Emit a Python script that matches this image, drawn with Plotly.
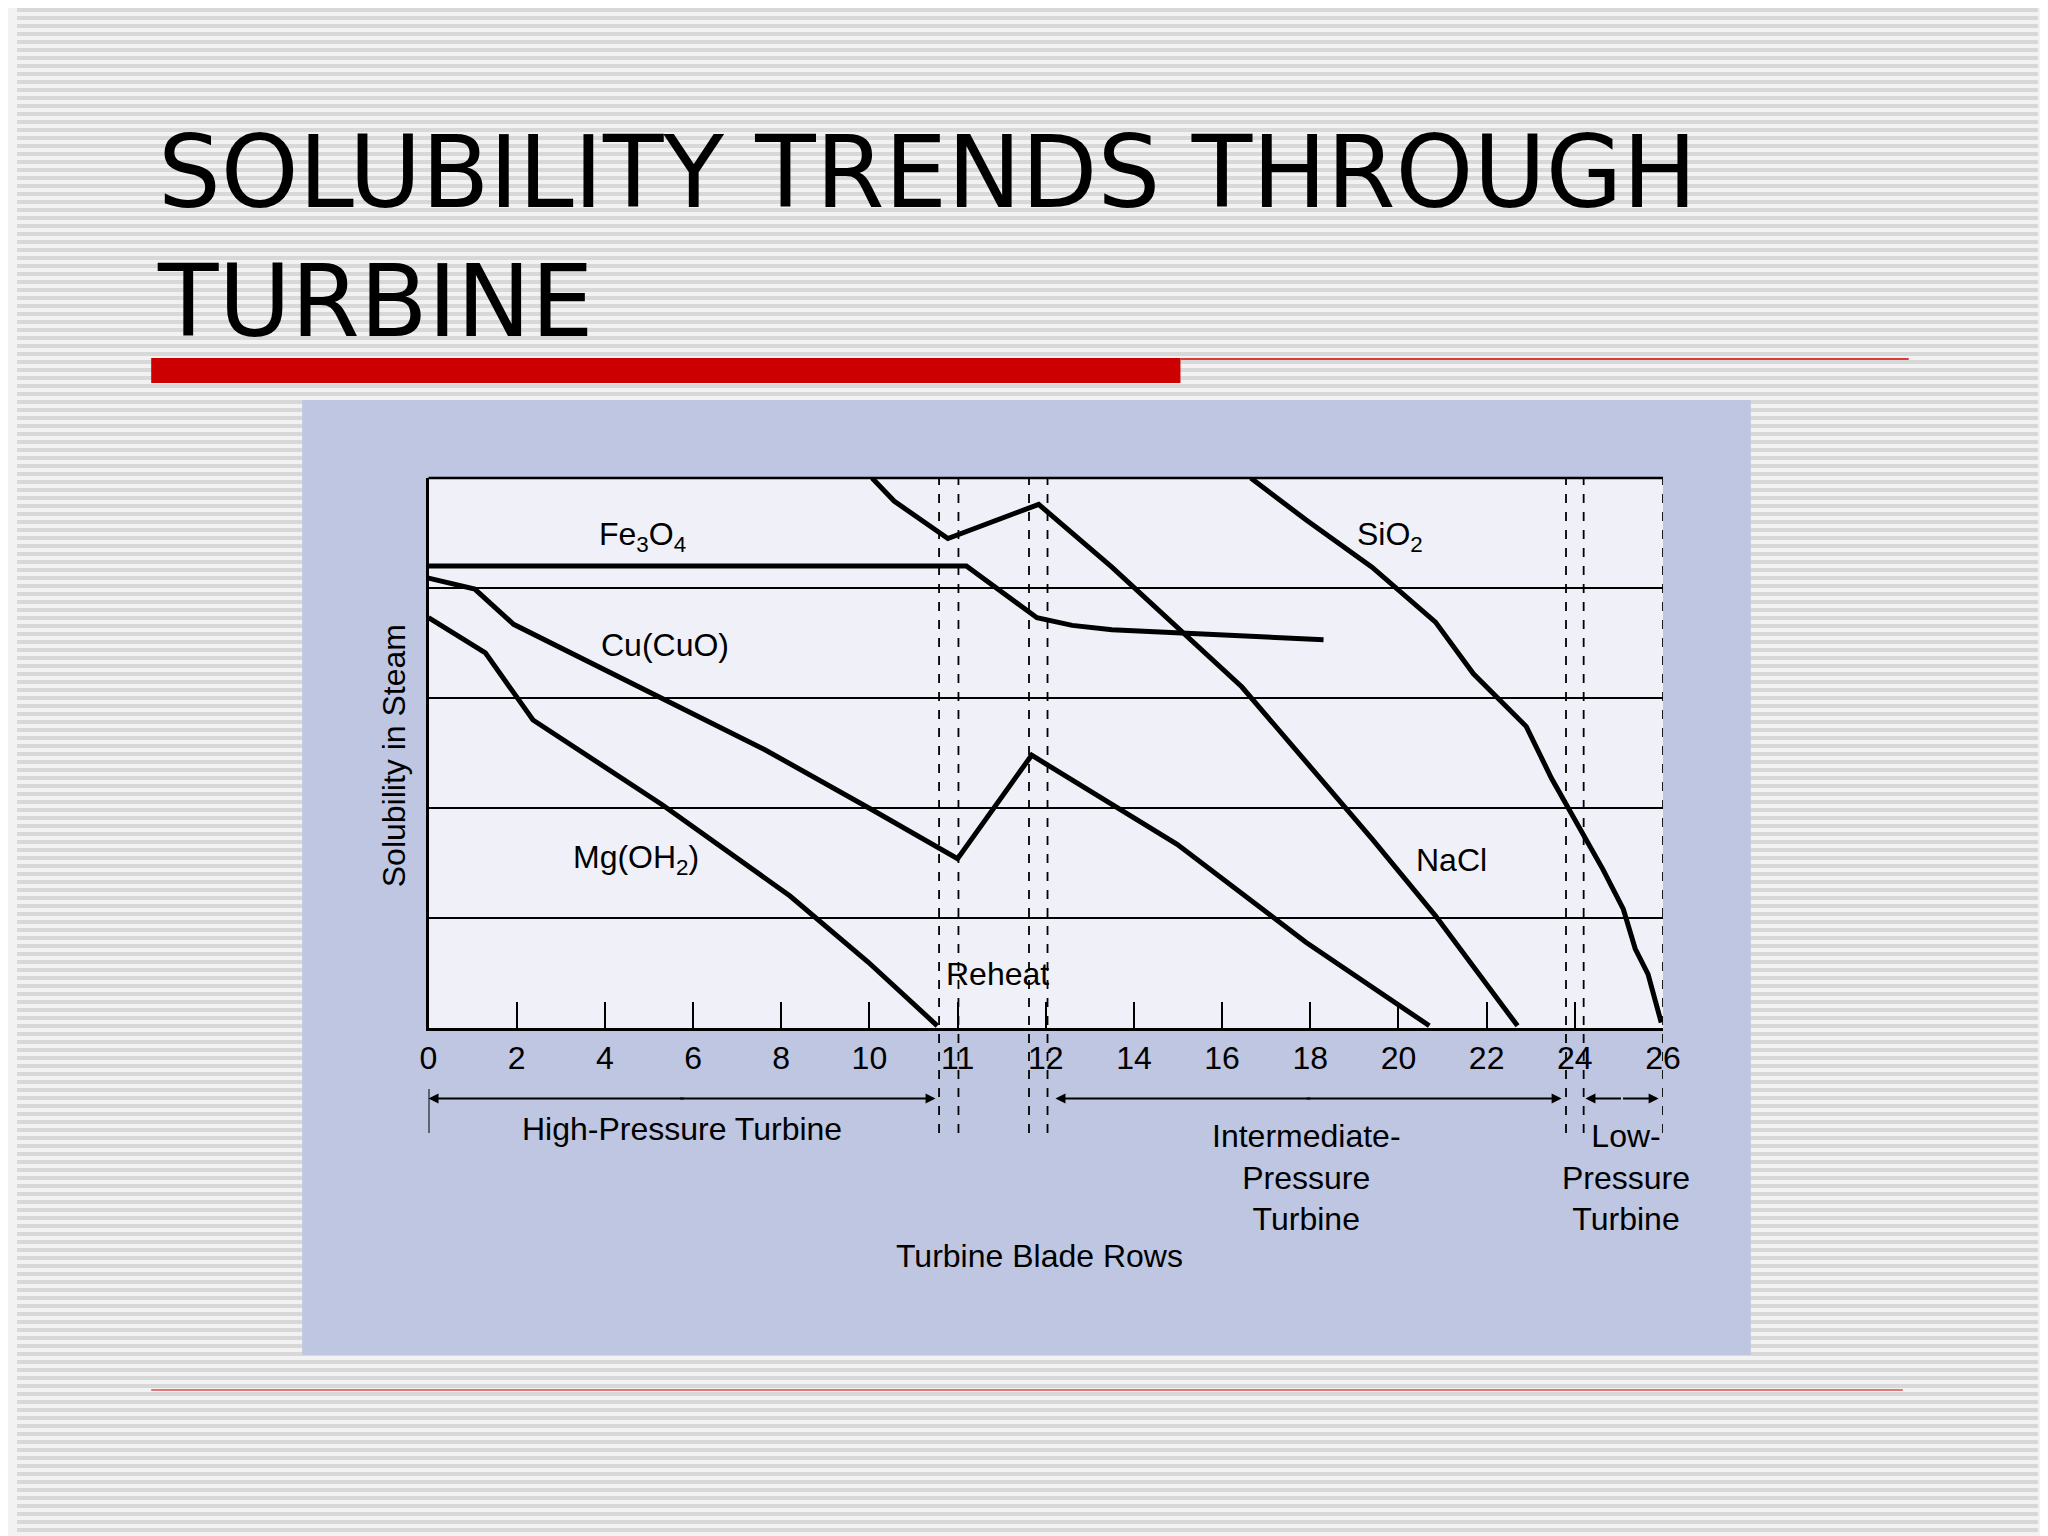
import numpy as np
import plotly.graph_objects as go

# Blade rows (x) and relative solubility (y)
fe_x = [0, 11.1, 11.9, 12.6, 13.5, 18.3]
fe_y = [4.2, 4.2, 3.73, 3.66, 3.62, 3.53]
cu_x = [0, 1.05, 1.93, 7.63, 10.06, 11.0, 11.84, 14.98, 17.9, 20.7]
cu_y = [4.09, 3.99, 3.67, 2.53, 1.97, 1.54, 2.48, 1.67, 0.78, 0.02]
mg_x = [0, 1.29, 2.37, 5.3, 8.2, 9.97, 10.77]
mg_y = [3.73, 3.41, 2.8, 2.03, 1.2, 0.6, 0.02]
nacl_x = [10.03, 10.28, 10.89, 11.92, 13.5, 16.45, 19.4, 20.84, 22.7]
nacl_y = [5.0, 4.79, 4.45, 4.76, 4.19, 3.1, 1.72, 1.02, 0.02]
sio2_x = [16.65, 17.9, 19.4, 20.84, 21.7, 22.9, 23.47, 24.64, 25.1, 25.37, 25.66, 25.96]
sio2_y = [5.0, 4.62, 4.19, 3.69, 3.22, 2.74, 2.27, 1.44, 1.08, 0.72, 0.49, 0.05]
tick_rows = [0, 2, 4, 6, 8, 10, 11, 12, 14, 16, 18, 20, 22, 24, 26]

# the axis is stretched around the reheat (10-12), map blade rows to axis positions
def to_pos(v):
    return np.interp(v, [0, 10, 11, 12, 26], [0, 5, 6, 7, 14])

FONT = "Liberation Sans"
X0, X1 = 417 / 2048, 1668 / 2048
Y0, Y1 = 1 - 1020 / 1536, 1 - 470 / 1536
PX_PER_POS = (1668 - 417) / 14

def ypaper(v):
    return Y0 + v * (Y1 - Y0) / 5

fig = go.Figure()
for xs, ys in [(fe_x, fe_y), (cu_x, cu_y), (mg_x, mg_y), (nacl_x, nacl_y), (sio2_x, sio2_y)]:
    fig.add_trace(go.Scatter(x=to_pos(xs), y=ys, mode="lines", line=dict(color="black", width=5),
                             showlegend=False, hoverinfo="skip"))

shapes = []
# striped slide background
for yy in range(0, 1536, 8):
    shapes.append(dict(type="rect", xref="paper", yref="paper", x0=0, x1=1,
                       y0=1 - yy / 1536, y1=1 - (yy + 4) / 1536,
                       fillcolor="#d8d8d8", line_width=0, layer="below"))
# blue panel and plot area
shapes.append(dict(type="rect", xref="paper", yref="paper", x0=289 / 2048, x1=1757 / 2048,
                   y0=1 - 1347 / 1536, y1=1 - 392 / 1536, fillcolor="#bec6e1", line_width=0, layer="below"))
shapes.append(dict(type="rect", xref="paper", yref="paper", x0=X0, x1=X1, y0=Y0, y1=Y1,
                   fillcolor="#eff0f8", line_width=0, layer="below"))
# red bar and lines
shapes.append(dict(type="rect", xref="paper", yref="paper", x0=136 / 2048, x1=1179 / 2048,
                   y0=1 - 375 / 1536, y1=1 - 350 / 1536, fillcolor="#cc0000", line_width=0))
shapes.append(dict(type="line", xref="paper", yref="paper", x0=1179 / 2048, x1=1917 / 2048,
                   y0=1 - 351 / 1536, y1=1 - 351 / 1536, line=dict(color="#cc0000", width=1.5)))
shapes.append(dict(type="line", xref="paper", yref="paper", x0=136 / 2048, x1=1911 / 2048,
                   y0=1 - 1382 / 1536, y1=1 - 1382 / 1536, line=dict(color="#cc0000", width=1)))
# top border
shapes.append(dict(type="line", xref="paper", yref="paper", x0=X0, x1=X1, y0=Y1, y1=Y1,
                   line=dict(color="black", width=2.5)))
# dashed section boundaries
for p in [5.79, 6.01, 6.81, 7.02, 12.9, 13.1, 14.0]:
    shapes.append(dict(type="line", xref="x", yref="paper", x0=p, x1=p, y0=1 - 1125 / 1536, y1=Y1,
                       line=dict(color="black", width=1.8, dash="dash")))
shapes.append(dict(type="line", xref="x", yref="paper", x0=0, x1=0, y0=1 - 1125 / 1536, y1=1 - 1081 / 1536,
                   line=dict(color="black", width=2)))

ann = []
def label(x, y, t, anchor="middle", size=32):
    ann.append(dict(x=x, y=ypaper(y), xref="x", yref="paper", text=t, showarrow=False, yanchor=anchor,
                    font=dict(family=FONT, size=size, color="black")))

label(2.43, 4.47, "Fe<sub>3</sub>O<sub>4</sub>")
label(2.68, 3.48, "Cu(CuO)")
label(2.35, 1.53, "Mg(OH<sub>2</sub>)")
label(10.9, 4.47, "SiO<sub>2</sub>")
label(11.6, 1.53, "NaCl")
label(6.45, 0.49, "Reheat")
label(2.87, -0.92, "High-Pressure Turbine")
label(9.96, -0.8, "Intermediate-<br>Pressure<br>Turbine", anchor="top")
label(13.58, -0.8, "Low-<br>Pressure<br>Turbine", anchor="top")
label(6.93, -2.07, "Turbine Blade Rows")

# double-headed section arrows
for a, b in [(0, 5.75), (7.11, 12.85), (13.12, 13.95)]:
    m = (a + b) / 2
    for tip in (a, b):
        ann.append(dict(x=tip, y=ypaper(-0.64), xref="x", yref="paper", axref="pixel", ayref="pixel",
                        ax=(m - tip) * PX_PER_POS, ay=0,
                        text="", showarrow=True, arrowhead=2, arrowsize=1, arrowwidth=2, arrowcolor="black"))

ann.append(dict(x=362 / 2048, y=1 - 748 / 1536, xref="paper", yref="paper",
                text="Solubility in Steam", textangle=-90, showarrow=False,
                font=dict(family=FONT, size=32, color="black")))
ann.append(dict(x=140 / 2048, y=1 - 105 / 1536, xref="paper", yref="paper", xanchor="left", yanchor="top",
                align="left", text="SOLUBILITY TRENDS THROUGH<br>TURBINE", showarrow=False,
                font=dict(family="DejaVu Sans", size=99, color="black")))

fig.update_layout(
    width=2048, height=1536, margin=dict(l=0, r=0, t=0, b=0),
    paper_bgcolor="#f2f2f2", plot_bgcolor="rgba(0,0,0,0)",
    shapes=shapes, annotations=ann,
    xaxis=dict(domain=[X0, X1], range=[0, 14], tickvals=to_pos(tick_rows),
               ticktext=[str(t) for t in tick_rows], ticks="inside", ticklen=26, tickwidth=2,
               tickcolor="black", showgrid=False, zeroline=False, showline=True, linecolor="black",
               linewidth=3, tickfont=dict(family=FONT, size=32, color="black")),
    yaxis=dict(domain=[Y0, Y1], range=[0, 5], tickvals=[1, 2, 3, 4],
               showticklabels=False, showgrid=True, gridcolor="black", gridwidth=1.5, zeroline=False,
               showline=True, linecolor="black", linewidth=3),
)

fig.write_html("out.html")
